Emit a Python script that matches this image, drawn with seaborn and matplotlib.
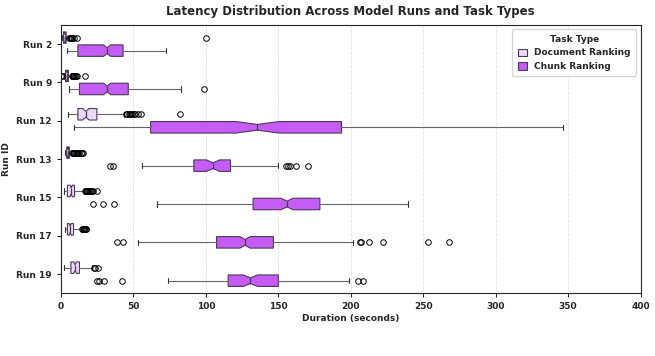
"""
Latency distribution per run, split by task type (notched horizontal boxes).
"""

import matplotlib

matplotlib.use("Agg")
import matplotlib.pyplot as plt
import seaborn as sns
from matplotlib.patches import Patch

runs = ["Run 2", "Run 9", "Run 12", "Run 13", "Run 15", "Run 17", "Run 19"]
task_types = ["Document Ranking", "Chunk Ranking"]

# Document Ranking box statistics (seconds)
doc_whislo = [0.8, 1.8, 4.6, 2.8, 1.8, 3.0, 1.8]
doc_q1 = [1.8, 3.2, 11.7, 4.0, 4.5, 4.5, 6.9]
doc_med = [2.8, 4.3, 17.2, 4.8, 7.1, 6.4, 9.8]
doc_q3 = [3.6, 5.2, 24.8, 5.8, 9.4, 8.7, 12.8]
doc_whishi = [5.5, 7.0, 43.8, 7.2, 16.2, 14.0, 21.3]
doc_notch = [0.4, 0.4, 2.3, 0.3, 0.7, 0.6, 0.9]
doc_fliers = [
    [5.9, 6.3, 6.8, 7.2, 7.6, 9.0, 11.0, 99.8],
    [0.2, 0.6, 7.6, 8.1, 8.6, 9.1, 9.6, 10.2, 11.0, 16.6],
    [44.8, 45.8, 46.8, 47.6, 48.4, 49.2, 50.2, 51.3, 53.0, 55.2, 82.5],
    [7.8, 8.5, 9.2, 9.8, 10.5, 11.2, 12.0, 12.8, 13.6, 14.6, 15.5],
    [16.8, 17.4, 18.0, 18.6, 19.2, 19.8, 20.6, 21.4, 22.2, 24.8],
    [14.6, 15.1, 15.6, 16.1, 16.6, 17.1, 17.6],
    [22.5, 23.5, 25.8],
]

# Chunk Ranking box statistics (seconds)
chunk_whislo = [4.1, 5.7, 8.7, 55.7, 66.5, 53.4, 73.6]
chunk_q1 = [11.7, 12.8, 61.9, 91.7, 132.6, 107.4, 115.4]
chunk_med = [31.9, 31.9, 135.6, 105.0, 156.0, 127.0, 130.8]
chunk_q3 = [42.9, 46.5, 193.6, 117.0, 178.7, 146.6, 150.0]
chunk_whishi = [72.7, 82.8, 346.6, 149.8, 239.7, 201.4, 198.9]
chunk_notch = [2.5, 2.5, 14.8, 4.6, 4.2, 3.5, 5.0]
chunk_fliers = [
    [],
    [98.6],
    [],
    [34.2, 35.8, 155.3, 156.6, 158.2, 162.4, 170.7],
    [22.4, 29.3, 36.7],
    [38.5, 43.1, 206.2, 207.2, 212.7, 222.5, 253.5, 267.5],
    [24.6, 26.0, 30.0, 42.0, 204.8, 208.3],
]

colors = {"Document Ranking": "#ead8f6", "Chunk Ranking": "#c45cf5"}
edge = "#4b3a57"


def build_stats(whislo, q1, med, q3, whishi, notch, fliers):
    out = []
    for i in range(len(med)):
        out.append(
            {
                "whislo": whislo[i],
                "q1": q1[i],
                "med": med[i],
                "q3": q3[i],
                "whishi": whishi[i],
                "cilo": med[i] - notch[i],
                "cihi": med[i] + notch[i],
                "fliers": fliers[i],
            }
        )
    return out


sns.set_style("ticks")
plt.rcParams["font.family"] = ["DejaVu Sans"]

fig, ax = plt.subplots(figsize=(6.55, 3.56), dpi=100)
fig.subplots_adjust(left=0.093, right=0.978, bottom=0.176, top=0.930)

groups = {
    "Document Ranking": build_stats(doc_whislo, doc_q1, doc_med, doc_q3, doc_whishi, doc_notch, doc_fliers),
    "Chunk Ranking": build_stats(
        chunk_whislo, chunk_q1, chunk_med, chunk_q3, chunk_whishi, chunk_notch, chunk_fliers
    ),
}
offsets = {"Document Ranking": -0.17, "Chunk Ranking": 0.17}

for task in task_types:
    ax.bxp(
        groups[task],
        positions=[i + offsets[task] for i in range(len(runs))],
        widths=0.3,
        vert=False,
        shownotches=True,
        patch_artist=True,
        manage_ticks=False,
        boxprops=dict(facecolor=colors[task], edgecolor=edge, linewidth=0.8),
        medianprops=dict(color=edge, linewidth=0.9),
        whiskerprops=dict(color="#666666", linewidth=0.8),
        capprops=dict(color="#333333", linewidth=0.8),
        capwidths=0.14,
        flierprops=dict(marker="o", markersize=4, markerfacecolor="none",
                        markeredgecolor="black", markeredgewidth=0.7),
    )

ax.set_yticks(range(len(runs)))
ax.set_yticklabels(runs)
ax.set_ylim(len(runs) - 0.5, -0.5)
ax.set_xlim(0, 400)
ax.xaxis.grid(True, linestyle="--", color="#cccccc", alpha=0.6, linewidth=0.6)
ax.set_axisbelow(True)

ax.tick_params(axis="both", labelsize=6.5, length=3, width=0.8)
for lbl in ax.get_xticklabels() + ax.get_yticklabels():
    lbl.set_fontweight("bold")

ax.set_xlabel("Duration (seconds)", fontsize=6.5, fontweight="bold", labelpad=2)
ax.set_ylabel("Run ID", fontsize=6.5, fontweight="bold")
ax.set_title("Latency Distribution Across Model Runs and Task Types", fontsize=8.5,
             fontweight="bold", pad=7)

handles = [Patch(facecolor=colors[t], edgecolor=edge, linewidth=0.8) for t in task_types]
leg = ax.legend(handles, task_types, title="Task Type", loc="upper right",
                prop={"size": 6.5, "weight": "bold"}, frameon=True,
                handlelength=1.0, handleheight=0.9, borderpad=0.6)
leg.get_title().set_fontweight("bold")
leg.get_title().set_fontsize(6.5)

fig.savefig("out.png", dpi=100)
